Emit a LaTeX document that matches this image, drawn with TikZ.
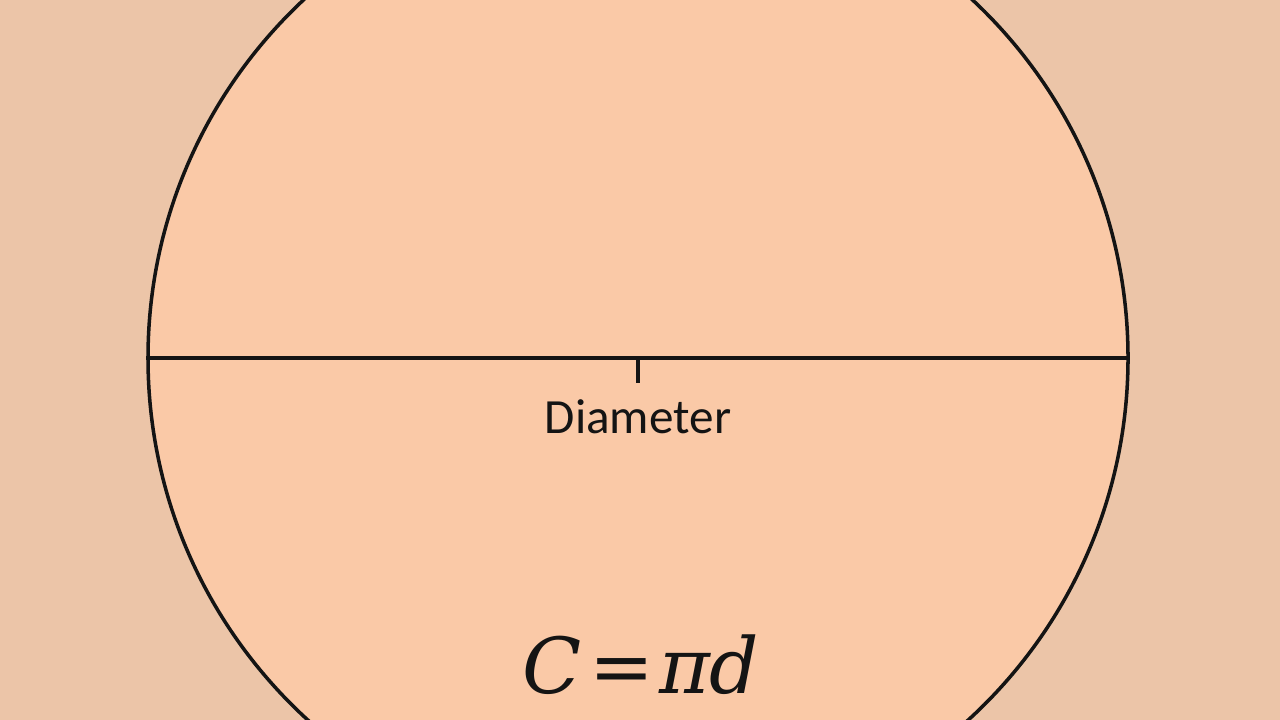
\documentclass[tikz,border=0pt]{standalone}
\usepackage{fontspec}
\setsansfont{Carlito}
\newfontfamily\formfont{DejaVu Serif}
\usetikzlibrary{positioning}

\definecolor{paper}{RGB}{236,197,168}
\definecolor{disc}{RGB}{250,201,167}
\definecolor{ink}{RGB}{20,20,20}

\tikzset{
  rimline/.style={draw=ink,line width=1pt,fill=disc},
  diamline/.style={draw=ink,line width=1pt},
  labeltext/.style={font=\sffamily\fontsize{14}{16}\selectfont,text=ink,inner sep=0pt},
  formtext/.style={font=\formfont\fontsize{22}{26}\selectfont,text=ink,inner sep=0pt}
}

\begin{document}
\begin{tikzpicture}
  \useasboundingbox (0,0) rectangle (12.8,7.2);
  \clip (0,0) rectangle (12.8,7.2);
  \fill[paper] (0,0) rectangle (12.8,7.2);
  \begin{scope}
    \node[circle,rimline,minimum size=9.8cm,inner sep=0pt] (rim) at (6.38,3.62) {};
    \draw[diamline] (rim.west) -- (rim.east);
    \coordinate[below=0.25cm of rim.center] (tick);
    \draw[diamline] (rim.center) -- (tick);
    \node[labeltext,below=0.16cm of tick] (lbl) {Diameter};
    \node[formtext,anchor=base] (formula) at (6.41,0.26)
      {\itshape C\kern0.1em\upshape=\kern0.06em\itshape πd};
  \end{scope}
\end{tikzpicture}
\end{document}
